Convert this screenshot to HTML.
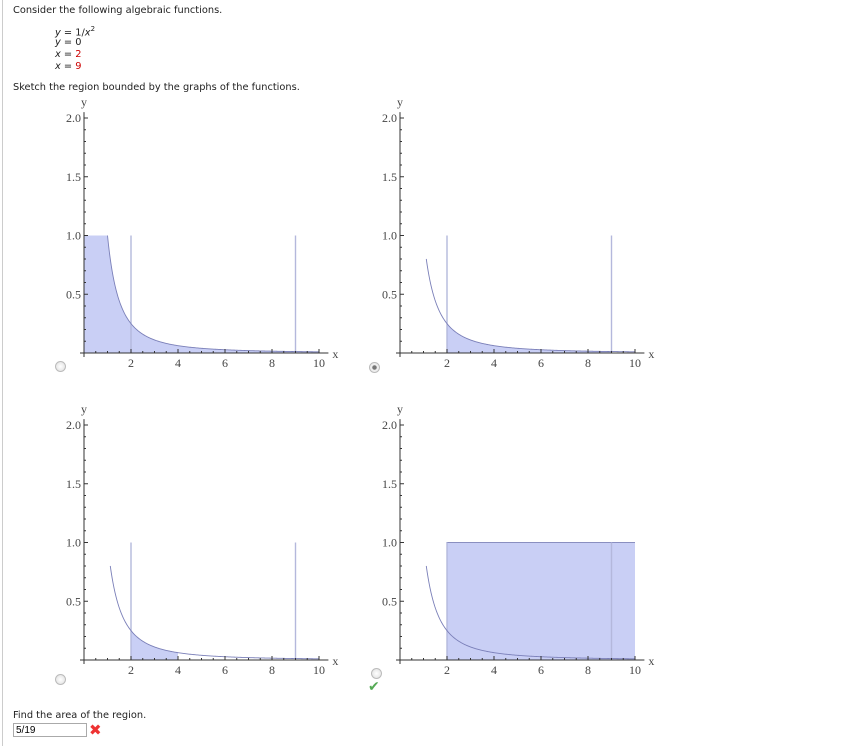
<!DOCTYPE html>
<html><head><meta charset="utf-8">
<style>
body{margin:0;background:#fff;width:862px;height:746px;overflow:hidden;position:relative;font-family:Verdana,"DejaVu Sans",sans-serif;}
.t{position:absolute;font-size:9.8px;color:#222;white-space:nowrap;font-family:"DejaVu Sans",Verdana,sans-serif;}
.red{color:#c00;}
.radio{position:absolute;width:9px;height:9px;border-radius:50%;border:1px solid #bbb;background:radial-gradient(#fff,#ddd);}
svg{position:absolute;left:0;top:0;}
.lbl{font-family:"Liberation Serif",serif;font-size:12px;fill:#444;}
</style></head>
<body>
<div style="position:absolute;left:2px;top:0;width:1px;height:746px;background:#ccc"></div>
<div class="t" style="left:13px;top:5px">Consider the following algebraic functions.</div>
<div class="t" style="left:55px;top:25px"><i>y</i> = 1/<i>x</i><sup style="font-size:7px">2</sup></div>
<div class="t" style="left:55px;top:37px"><i>y</i> = 0</div>
<div class="t" style="left:55px;top:49px"><i>x</i> = <span class="red">2</span></div>
<div class="t" style="left:55px;top:61px"><i>x</i> = <span class="red">9</span></div>
<div class="t" style="left:13px;top:82px">Sketch the region bounded by the graphs of the functions.</div>
<div class="t" style="left:13px;top:710px">Find the area of the region.</div>
<input value="5/19" style="position:absolute;left:13px;top:723px;width:68px;height:12px;font-size:10px;padding:0 2px;border:1px solid #aaa;font-family:Verdana,sans-serif">
<div style="position:absolute;left:89px;top:721px;color:#e33;font-size:15px;font-weight:bold">✖</div>
<div class="radio" style="left:55px;top:361px"></div>
<div class="radio" style="left:369px;top:362px;background:radial-gradient(#777 30%,#eee 40%)"></div>
<div class="radio" style="left:55px;top:674px"></div>
<div class="radio" style="left:371px;top:668px"></div>
<div style="position:absolute;left:368px;top:679px;color:#5a5;font-size:14px">✔</div>
<svg id="s" width="862" height="746"></svg>
<script>
const xTicks=[2,4,6,8,10];
const yTicks=[0.5,1.0,1.5,2.0];
const vLines=[2,9];
const panels=[
 {ox:84,oy:353,curveStart:1,fill:'clip',fa:0,fb:10},
 {ox:400,oy:353,curveStart:1.118,fill:'under',fa:2,fb:9},
 {ox:84,oy:660,curveStart:1.118,fill:'under',fa:2,fb:4},
 {ox:400,oy:660,curveStart:1.118,fill:'rect',fa:2,fb:10}
];
const NS='http://www.w3.org/2000/svg';
const svg=document.getElementById('s');
function mk(t,a,p){const e=document.createElementNS(NS,t);for(const k in a)e.setAttribute(k,a[k]);(p||svg).appendChild(e);return e;}
const f=x=>1/(x*x);
panels.forEach((P,i)=>{
 const sx=x=>P.ox+x*23.5, sy=y=>P.oy-y*117.5;
 const g=mk('g',{});
 
 
 let d='';
 if(P.fill==='clip'){
  d='M'+sx(0)+','+sy(0)+' L'+sx(0)+','+sy(1)+' L'+sx(1)+','+sy(1);
  for(let x=1;x<=10;x+=0.05)d+=' L'+sx(x)+','+sy(f(x));
  d+=' L'+sx(10)+','+sy(0)+'Z';
 }else if(P.fill==='under'){
  d='M'+sx(P.fa)+','+sy(0);
  for(let x=P.fa;x<=P.fb+1e-9;x+=0.05)d+=' L'+sx(x)+','+sy(f(x));
  d+=' L'+sx(P.fb)+','+sy(0)+'Z';
 }else{
  d='M'+sx(P.fa)+','+sy(0)+' L'+sx(P.fa)+','+sy(1)+' L'+sx(P.fb)+','+sy(1)+' L'+sx(P.fb)+','+sy(0)+'Z';
 }
 const fe=mk('path',{d:d,fill:'#c9cff5',stroke:'none'},g);
 
 
 if(P.fill==='rect'){
  const r=mk('path',{d:'M'+sx(P.fa)+','+sy(0)+' L'+sx(P.fa)+','+sy(1)+' L'+sx(P.fb)+','+sy(1),fill:'none',stroke:'#8a8fc0','stroke-width':1},g);
  
  
 }
 vLines.forEach(v=>{
  const l=mk('line',{x1:sx(v),x2:sx(v),y1:sy(0),y2:sy(1),stroke:'#b4b8dc','stroke-width':1.4},g);
  
  
 });
 let c='';
 for(let x=P.curveStart;x<=10;x+=0.04)c+=(c?' L':'M')+sx(x)+','+sy(f(x));
 const ce=mk('path',{d:c,fill:'none',stroke:'#7a7fb8','stroke-width':0.9},g);
 
 
 mk('line',{x1:P.ox-4,x2:sx(10.4),y1:P.oy,y2:P.oy,stroke:'#333','stroke-width':1},g);
 mk('line',{x1:P.ox,x2:P.ox,y1:P.oy+4,y2:sy(2.05),stroke:'#333','stroke-width':1},g);
 for(let k=1;k<=20;k++){const x=k*0.5;mk('line',{x1:sx(x),x2:sx(x),y1:P.oy,y2:P.oy-(k%4==0?4:2),stroke:'#333'},g);}
 for(let k=1;k<=20;k++){const y=k*0.1;mk('line',{x1:P.ox,x2:P.ox+(k%5==0?4:2),y1:sy(y),y2:sy(y),stroke:'#333'},g);}
 xTicks.forEach(x=>{const t=mk('text',{x:sx(x),y:P.oy+14,'text-anchor':'middle',class:'lbl'},g);t.textContent=x;
  });
 yTicks.forEach(y=>{const t=mk('text',{x:P.ox-3,y:sy(y)+4,'text-anchor':'end',class:'lbl'},g);t.textContent=y.toFixed(1);
  });
 const xt=mk('text',{x:sx(10.4)+4,y:P.oy+5,class:'lbl'},g);xt.textContent='x';
 
 const yt=mk('text',{x:P.ox,y:sy(2)-12,'text-anchor':'middle',class:'lbl'},g);yt.textContent='y';
 
});
</script>
</body></html>
